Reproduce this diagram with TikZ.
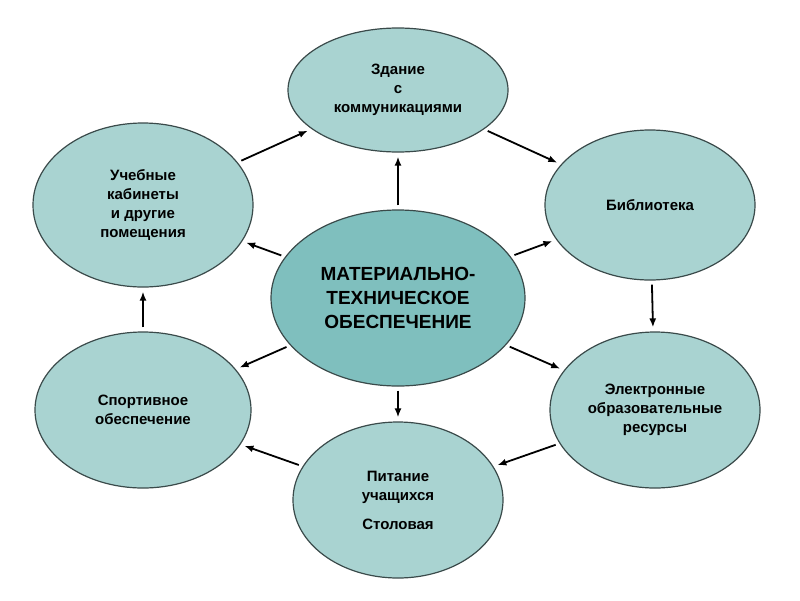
\documentclass[tikz,border=0pt]{standalone}
\usepackage{fontspec}
\setmainfont{Liberation Sans}
\usetikzlibrary{shapes.geometric,arrows,positioning}
\definecolor{ringfill}{HTML}{A9D3D1}
\definecolor{hubfill}{HTML}{7FBFBE}
\definecolor{edgegray}{HTML}{3A4A4A}
\tikzset{
  part/.style={ellipse, draw=edgegray, line width=1.2pt, fill=ringfill,
    font=\bfseries\fontsize{15}{19}\selectfont, align=center, inner sep=0pt},
  hub/.style={part, fill=hubfill, font=\bfseries\fontsize{19}{24}\selectfont},
  link/.style={-{Latex[length=9pt,width=7pt]}, line width=1.8pt, shorten >=4pt, shorten <=4pt}
}
\usetikzlibrary{arrows.meta}
\begin{document}
\begin{tikzpicture}[x=1pt, y=-1pt]
\useasboundingbox (0,0) rectangle (800,600);

\node [hub, minimum width=254pt, minimum height=176pt] (core) at (398,298) {МАТЕРИАЛЬНО-\\ТЕХНИЧЕСКОЕ\\ОБЕСПЕЧЕНИЕ};
\node [part, minimum width=220pt, minimum height=124pt] (build) at (398,90) {Здание\\с\\коммуникациями};
\node [part, minimum width=210pt, minimum height=150pt] (lib) at (650,205) {Библиотека};
\node [part, minimum width=210pt, minimum height=156pt] (eres) at (655,410) {Электронные\\образовательные\\ресурсы};
\node [part, minimum width=210pt, minimum height=156pt] (food) at (398,500) {Питание\\учащихся\\[10pt]Столовая};
\node [part, minimum width=216pt, minimum height=156pt] (sport) at (143,410) {Спортивное\\обеспечение};
\node [part, minimum width=220pt, minimum height=164pt] (rooms) at (143,205) {Учебные\\кабинеты\\и другие\\помещения};

% from the hub
\draw [link] (core) -- (build);
\draw [link] (core) -- (lib);
\draw [link] (core) -- (eres);
\draw [link] (core) -- (food);
\draw [link] (core) -- (sport);
\draw [link] (core) -- (rooms);

% around the ring
\draw [link] (rooms) -- (build);
\draw [link] (build) -- (lib);
\draw [link] (lib) -- (eres);
\draw [link] (eres) -- (food);
\draw [link] (food) -- (sport);
\draw [link] (sport) -- (rooms);
\end{tikzpicture}
\end{document}
